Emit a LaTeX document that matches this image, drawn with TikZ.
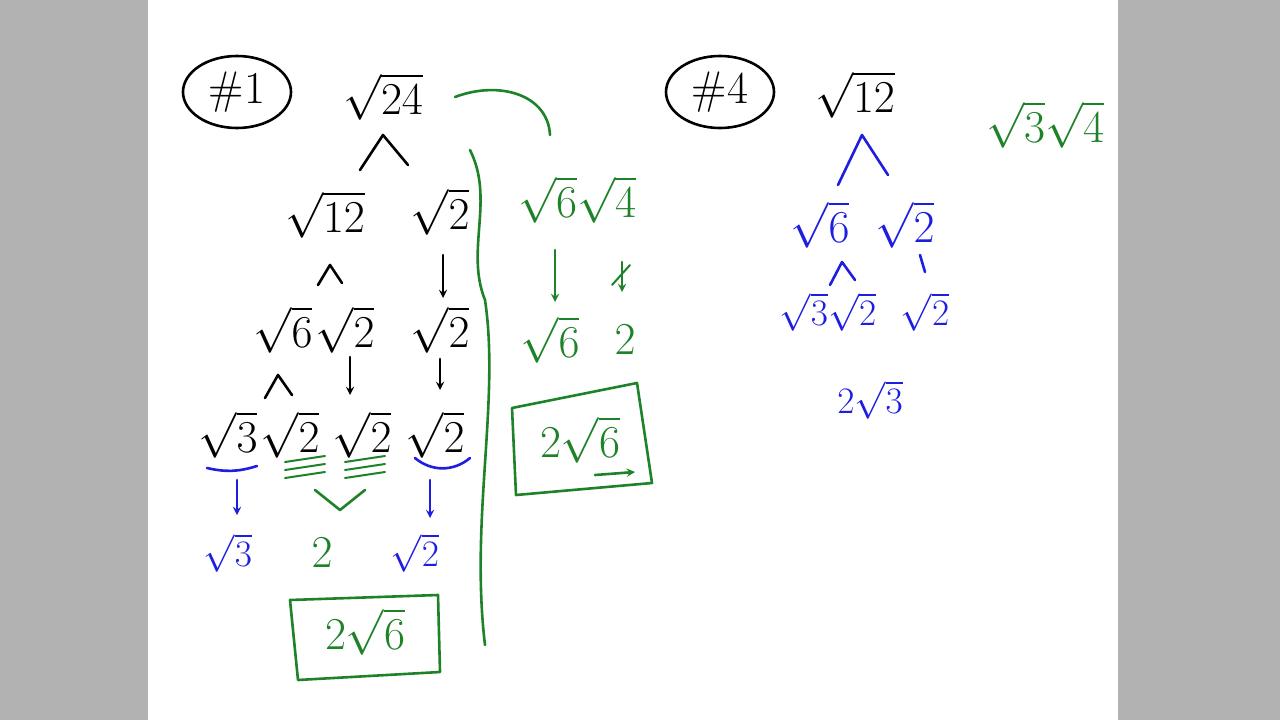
\documentclass[tikz,border=0pt]{standalone}
\begin{document}
\begin{tikzpicture}[x=1pt,y=-1pt,line width=2.6pt,line cap=round,line join=round,
  every node/.style={inner sep=0pt},
  t/.style={font=\huge,scale=2.2},
  ts/.style={font=\huge,scale=1.8},
  arr/.style={->,>=stealth}]
\definecolor{gr}{RGB}{30,130,40}
\definecolor{bl}{RGB}{30,30,225}
\fill[gray!60] (0,0) rectangle (1280,720);
\fill[white] (148,0) rectangle (1118,720);
\useasboundingbox (0,0) rectangle (1280,720);
% #1
\node[t] (h1) at (237,92) {\#1};
\draw (237,92) ellipse (54 and 36);
\node[t] (r24) at (383,97) {$\sqrt{24}$};
\draw (360,170) -- (383,135) -- (408,165);
\node[t] (a12) at (325,215) {$\sqrt{12}$};
\node[t] (a2) at (440,212) {$\sqrt{2}$};
\draw (318,285) -- (330,265) -- (342,283);
\draw[arr] (443,255) -- (443,298);
\node[t] (b6) at (283,330) {$\sqrt{6}$};
\node[t] (b2) at (345,330) {$\sqrt{2}$};
\node[t] (b2r) at (440,330) {$\sqrt{2}$};
\draw (265,398) -- (278,375) -- (292,395);
\draw[arr] (350,357) -- (350,395);
\draw[arr] (440,359) -- (440,390);
\node[t] (c3) at (228,435) {$\sqrt{3}$};
\node[t] (c2) at (290,435) {$\sqrt{2}$};
\node[t] (c2b) at (362,435) {$\sqrt{2}$};
\node[t] (c2r) at (435,435) {$\sqrt{2}$};
\draw[bl] (207,468) to[bend right=15] (257,466);
\draw[bl] (415,458) to[bend right=40] (470,458);
\foreach \y in {460,468,476}{\draw[gr,line width=2pt] (285,\y+2)--(325,\y-4); \draw[gr,line width=2pt] (345,\y+2)--(385,\y-4);}
\draw[bl,arr] (237,480) -- (237,515);
\draw[bl,arr] (430,480) -- (430,518);
\draw[gr] (315,490) -- (340,510) -- (365,490);
\node[ts,bl] (d3) at (228,553) {$\sqrt{3}$};
\node[t,gr] (d2) at (322,553) {$2$};
\node[ts,bl] (d2r) at (415,553) {$\sqrt{2}$};
\draw[gr] (290,600) -- (438,595) -- (440,672) -- (298,680) -- cycle;
\node[t,gr] (box1) at (365,632) {$2\sqrt{6}$};
\draw[gr] (470,150) .. controls (495,200) and (465,250) .. (485,300) .. controls (500,400) and (470,520) .. (485,645);
\draw[gr] (455,97) .. controls (500,80) and (548,95) .. (550,135);
% right green column
\node[t,gr] (e64) at (577,200) {$\sqrt{6}\sqrt{4}$};
\draw[gr,arr] (555,250) -- (555,302);
\draw[gr,arr] (622,262) -- (622,292);
\draw[gr,line width=2pt] (612,285) -- (630,265);
\node[t,gr] (f6) at (550,340) {$\sqrt{6}$};
\node[t,gr] (f2) at (625,340) {$2$};
\draw[gr] (512,408) -- (637,383) -- (652,483) -- (516,495) -- cycle;
\node[t,gr] (box2) at (580,440) {$2\sqrt{6}$};
\draw[gr,arr] (595,475) -- (635,472);
% #4
\node[t] (h4) at (720,92) {\#4};
\draw (720,92) ellipse (54 and 36);
\node[t] (r12) at (855,95) {$\sqrt{12}$};
\draw[bl] (838,185) -- (862,135) -- (888,175);
\node[t,bl] (g6) at (820,225) {$\sqrt{6}$};
\node[t,bl] (g2) at (905,225) {$\sqrt{2}$};
\draw[bl] (830,285) -- (842,262) -- (855,280);
\draw[bl] (920,255) -- (925,272);
\node[ts,bl] (h32) at (828,312) {$\sqrt{3}\sqrt{2}$};
\node[ts,bl] (h2) at (925,312) {$\sqrt{2}$};
\node[ts,bl] (res) at (870,400) {$2\sqrt{3}$};
\node[t,gr] (s34) at (1045,125) {$\sqrt{3}\sqrt{4}$};
\end{tikzpicture}
\end{document}
